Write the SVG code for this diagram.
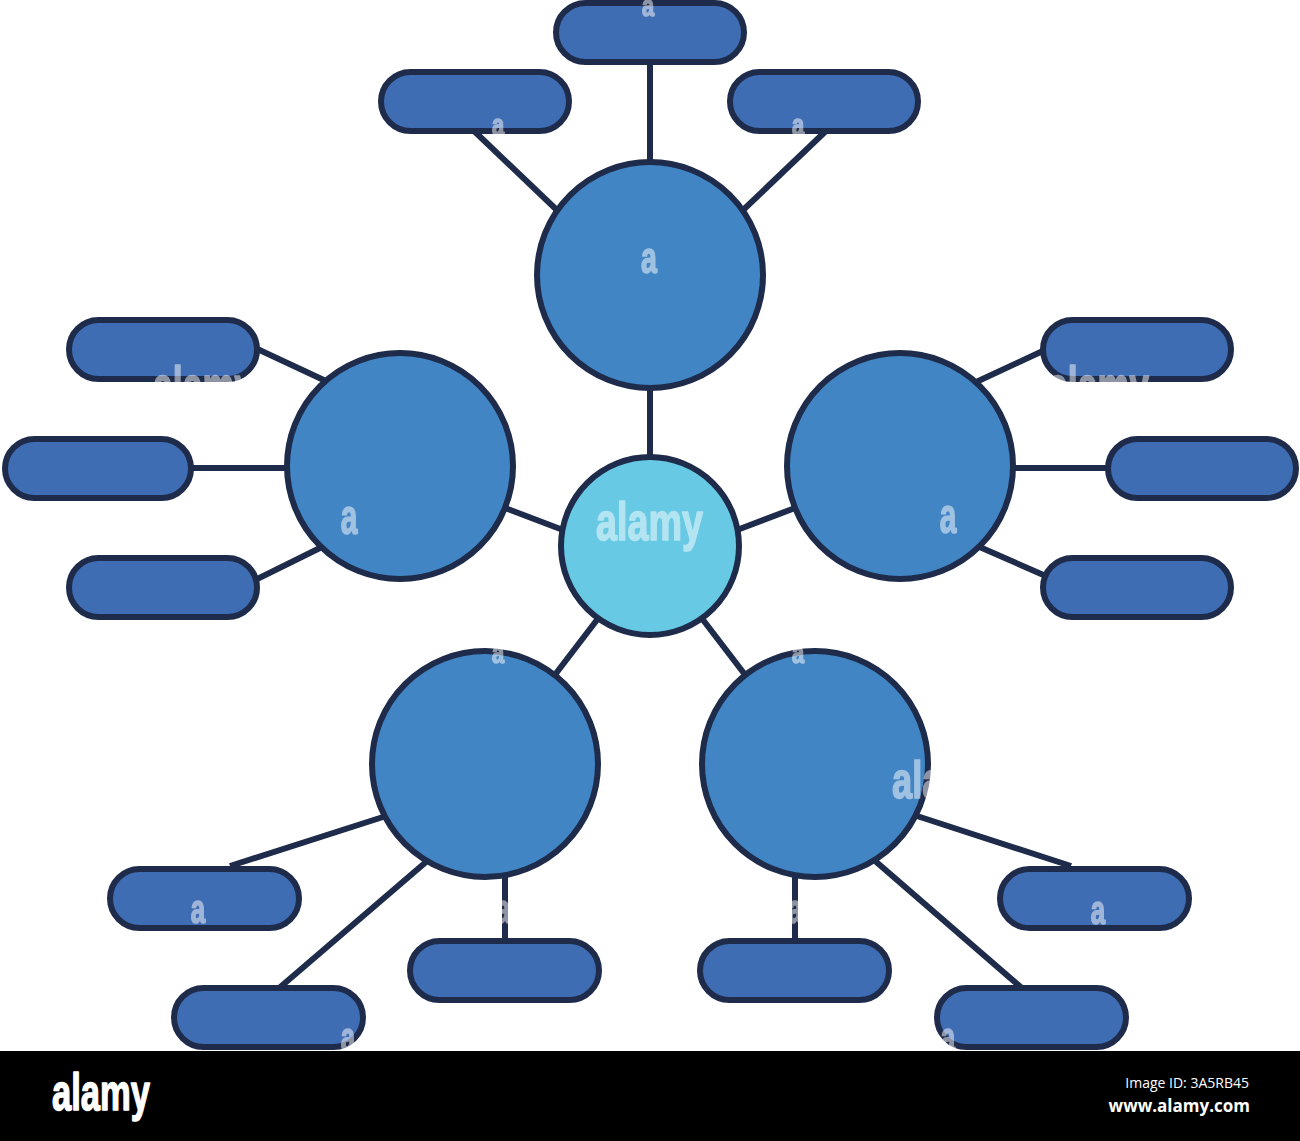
<svg xmlns="http://www.w3.org/2000/svg" width="1300" height="1141" viewBox="0 0 1300 1141">
<style>
.ln{stroke:#1e2b4a;stroke-width:6;fill:none}
.big{fill:#4185c5;stroke:#1e2b4a;stroke-width:6}
.ctr{fill:#67c9e3;stroke:#1e2b4a;stroke-width:6}
.pill{fill:#3f6db3;stroke:#1e2b4a;stroke-width:6}
.wm{fill:#ffffff;stroke:#ffffff;stroke-width:1.6;stroke-linejoin:round;font-family:"Liberation Sans",Arial,sans-serif;font-weight:bold}
.wa{text-anchor:middle}
</style>
<rect width="1300" height="1141" fill="#ffffff"/>
<g id="connectors">
<line class="ln" x1="650" y1="60" x2="650" y2="164"/>
<line class="ln" x1="472" y1="129" x2="560" y2="213"/>
<line class="ln" x1="828" y1="129" x2="740" y2="213"/>
<line class="ln" x1="650" y1="386" x2="650" y2="458"/>
<line class="ln" x1="253" y1="347" x2="328" y2="382"/>
<line class="ln" x1="188" y1="468" x2="288" y2="468"/>
<line class="ln" x1="253" y1="581" x2="326" y2="545"/>
<line class="ln" x1="505" y1="508" x2="563" y2="530"/>
<line class="ln" x1="1047" y1="349" x2="974" y2="383"/>
<line class="ln" x1="1012" y1="468" x2="1112" y2="468"/>
<line class="ln" x1="975" y1="545" x2="1048" y2="577"/>
<line class="ln" x1="795" y1="508" x2="737" y2="530"/>
<line class="ln" x1="230" y1="866" x2="383" y2="817"/>
<line class="ln" x1="278" y1="989" x2="426" y2="862"/>
<line class="ln" x1="505" y1="874" x2="505" y2="945"/>
<line class="ln" x1="554" y1="676" x2="603" y2="612"/>
<line class="ln" x1="1071" y1="866" x2="917" y2="816"/>
<line class="ln" x1="1023" y1="989" x2="874" y2="860"/>
<line class="ln" x1="795" y1="874" x2="795" y2="945"/>
<line class="ln" x1="746" y1="676" x2="697" y2="612"/>
</g>
<g id="center"><circle class="ctr" cx="650" cy="546" r="89"/></g>
<g id="topic-top"><circle class="big" cx="650" cy="275" r="113"/></g>
<g id="topic-left"><circle class="big" cx="400" cy="466" r="113"/></g>
<g id="topic-right"><circle class="big" cx="900" cy="466" r="113"/></g>
<g id="topic-bottom-left"><circle class="big" cx="485" cy="764" r="113"/></g>
<g id="topic-bottom-right"><circle class="big" cx="815" cy="764" r="113"/></g>
<g id="pill-top"><rect class="pill" x="556" y="3" width="188" height="59" rx="29.5"/></g>
<g id="pill-top-left"><rect class="pill" x="381" y="72" width="188" height="59" rx="29.5"/></g>
<g id="pill-top-right"><rect class="pill" x="730" y="72" width="188" height="59" rx="29.5"/></g>
<g id="pill-left-1"><rect class="pill" x="69" y="320" width="188" height="59" rx="29.5"/></g>
<g id="pill-left-2"><rect class="pill" x="5" y="439" width="186" height="59" rx="29.5"/></g>
<g id="pill-left-3"><rect class="pill" x="69" y="558" width="188" height="59" rx="29.5"/></g>
<g id="pill-right-1"><rect class="pill" x="1043" y="320" width="188" height="59" rx="29.5"/></g>
<g id="pill-right-2"><rect class="pill" x="1108" y="439" width="188" height="59" rx="29.5"/></g>
<g id="pill-right-3"><rect class="pill" x="1043" y="558" width="188" height="59" rx="29.5"/></g>
<g id="pill-bl-1"><rect class="pill" x="110" y="869" width="189" height="59" rx="29.5"/></g>
<g id="pill-bl-2"><rect class="pill" x="410" y="941" width="189" height="59" rx="29.5"/></g>
<g id="pill-bl-3"><rect class="pill" x="174" y="988" width="189" height="59" rx="29.5"/></g>
<g id="pill-br-1"><rect class="pill" x="1000" y="869" width="189" height="59" rx="29.5"/></g>
<g id="pill-br-2"><rect class="pill" x="700" y="941" width="189" height="59" rx="29.5"/></g>
<g id="pill-br-3"><rect class="pill" x="937" y="988" width="189" height="59" rx="29.5"/></g>
<g id="watermark" class="wm" opacity="0.5">
<text x="596" y="540" font-size="54" textLength="107" lengthAdjust="spacingAndGlyphs">alamy</text>
<text x="153" y="403" font-size="52" textLength="101" lengthAdjust="spacingAndGlyphs">alamy</text>
<text x="1048" y="403" font-size="52" textLength="101" lengthAdjust="spacingAndGlyphs">alamy</text>
<text x="892" y="798" font-size="52" textLength="103" lengthAdjust="spacingAndGlyphs">alamy</text>
<text class="wa" font-size="29" transform="translate(648,16) scale(0.75,1)">a</text>
<text class="wa" font-size="29" transform="translate(498,135) scale(0.75,1)">a</text>
<text class="wa" font-size="29" transform="translate(798,135) scale(0.75,1)">a</text>
<text class="wa" font-size="44" transform="translate(649,273) scale(0.65,1)">a</text>
<text class="wa" font-size="50" transform="translate(349,534) scale(0.6,1)">a</text>
<text class="wa" font-size="50" transform="translate(948,533) scale(0.6,1)">a</text>
<text class="wa" font-size="29" transform="translate(498,663) scale(0.75,1)">a</text>
<text class="wa" font-size="29" transform="translate(798,663) scale(0.75,1)">a</text>
<text class="wa" font-size="40" transform="translate(198,923) scale(0.65,1)">a</text>
<text class="wa" font-size="40" transform="translate(1098,924) scale(0.65,1)">a</text>
<text class="wa" font-size="40" transform="translate(348,1051) scale(0.65,1)">a</text>
<text class="wa" font-size="40" transform="translate(948,1051) scale(0.65,1)">a</text>
<text class="wa" font-size="40" transform="translate(503,923) scale(0.65,1)">a</text>
<text class="wa" font-size="40" transform="translate(795,923) scale(0.65,1)">a</text>
</g>
<g id="banner">
<rect x="0" y="1051" width="1300" height="90" fill="#000000"/>
<text x="52" y="1110" fill="#ffffff" stroke="#ffffff" stroke-width="1.5" stroke-linejoin="round" font-family="'Liberation Sans',Arial,sans-serif" font-weight="bold" font-size="52" textLength="98" lengthAdjust="spacingAndGlyphs">alamy</text>
<text x="1249" y="1088" fill="#ffffff" font-family="'Open Sans','Liberation Sans',sans-serif" font-size="14" text-anchor="end">Image ID: 3A5RB45</text>
<text x="1250" y="1112" fill="#ffffff" font-family="'Open Sans','Liberation Sans',sans-serif" font-weight="bold" font-size="17" text-anchor="end">www.alamy.com</text>
</g>
</svg>
